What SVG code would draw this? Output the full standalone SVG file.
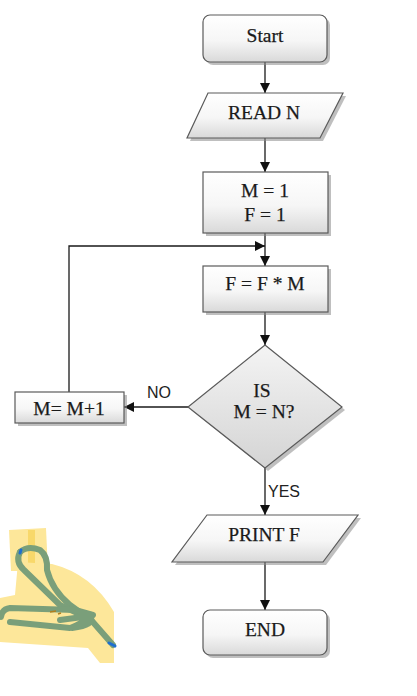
<svg xmlns="http://www.w3.org/2000/svg" width="417" height="696" viewBox="0 0 417 696">
<defs>
<linearGradient id="g" x1="0" y1="0" x2="0" y2="1">
<stop offset="0" stop-color="#ffffff"/>
<stop offset="0.55" stop-color="#f6f6f6"/>
<stop offset="1" stop-color="#d9d9d9"/>
</linearGradient>
<linearGradient id="gd" x1="0" y1="0" x2="0" y2="1">
<stop offset="0" stop-color="#f4f4f4"/>
<stop offset="1" stop-color="#d4d4d4"/>
</linearGradient>
<marker id="ah" viewBox="0 0 10 10" refX="10" refY="5" markerWidth="10" markerHeight="10" markerUnits="userSpaceOnUse" orient="auto">
<path d="M0,0 L10,5 L0,10 Z" fill="#111"/>
</marker>
</defs>
<style>
.box{fill:url(#g);stroke:#5a5a5a;stroke-width:1.2}
.dia{fill:url(#gd);stroke:#5a5a5a;stroke-width:1.2}
.sh{fill:#8a8a8a;opacity:0.55}
.t{font-family:"Liberation Serif","Times New Roman",serif;font-size:19.5px;fill:#1a1a1a;stroke:#1a1a1a;stroke-width:0.25;text-anchor:middle}
.lbl{font-family:"Liberation Sans",Arial,sans-serif;font-size:16px;fill:#222}
.c{fill:none;stroke:#1a1a1a;stroke-width:1.3}
</style>
<rect width="417" height="696" fill="#ffffff"/>

<g id="scribble">
<path d="M9,530 L46,528 L48,571 L11,571 Z" fill="#fde79a"/>
<path d="M28,530 L35,530 L35,566 L28,566 Z" fill="#f8d86a"/>
<path d="M0,598 L15,595 L18,562 L52,564 Q92,574 114,612 L114,663 L100,663 L88,648 L0,642 Z" fill="#fde79a"/>
<path d="M20,552 Q28,545 40,550 Q48,556 47,570 Q52,590 70,605 L92,621 L113,645" fill="none" stroke="#7a9f7a" stroke-width="6" stroke-linecap="round" stroke-linejoin="round"/>
<path d="M20,552 Q15,562 24,570 L60,605 L88,618" fill="none" stroke="#7a9f7a" stroke-width="6" stroke-linecap="round" stroke-linejoin="round"/>
<path d="M1,617 Q2,609 10,608 L75,610 L93,615 Q80,625 70,628 L10,622 M60,620 L90,616 Q96,625 72,628" fill="none" stroke="#7a9f7a" stroke-width="6" stroke-linecap="round" stroke-linejoin="round"/>
<path d="M20,553 L21,550" stroke="#1f6fd0" stroke-width="3" stroke-linecap="round"/>
<path d="M109,643 L115,646" stroke="#1f6fd0" stroke-width="3" stroke-linecap="round"/>
<path d="M50,612 L56,611 M58,614 L61,613" stroke="#b08020" stroke-width="1.5"/>
</g>

<g id="connectors">
<line class="c" x1="265" y1="62" x2="265" y2="93" marker-end="url(#ah)"/>
<line class="c" x1="265" y1="138" x2="265" y2="172" marker-end="url(#ah)"/>
<line class="c" x1="265" y1="233" x2="265" y2="266" marker-end="url(#ah)"/>
<polyline class="c" points="69,392 69,246 265,246" marker-end="url(#ah)"/>
<line class="c" x1="265" y1="312" x2="265" y2="345" marker-end="url(#ah)"/>
<line class="c" x1="188" y1="407" x2="124" y2="407" marker-end="url(#ah)"/>
<line class="c" x1="265" y1="468" x2="265" y2="515" marker-end="url(#ah)"/>
<line class="c" x1="265" y1="562" x2="265" y2="610" marker-end="url(#ah)"/>
<text class="lbl" x="147" y="398">NO</text>
<text class="lbl" x="268" y="497">YES</text>
</g>

<g id="start">
<rect class="sh" x="206" y="18" width="124" height="47" rx="7"/>
<rect class="box" x="203" y="15" width="124" height="47" rx="7"/>
<text class="t" x="265" y="42">Start</text>
</g>

<g id="read">
<polygon class="sh" points="211,96 346,96 323,141 190,141"/>
<polygon class="box" points="208,93 343,93 320,138 187,138"/>
<text class="t" x="264" y="119">READ N</text>
</g>

<g id="init">
<rect class="sh" x="206" y="175" width="125" height="61"/>
<rect class="box" x="203" y="172" width="125" height="61"/>
<text class="t" x="265" y="197">M = 1</text>
<text class="t" x="265" y="221">F = 1</text>
</g>

<g id="mult">
<rect class="sh" x="206" y="269" width="125" height="46"/>
<rect class="box" x="203" y="266" width="125" height="46"/>
<text class="t" x="265" y="290">F = F * M</text>
</g>

<g id="decision">
<polygon class="sh" points="268,348 345,410 268,471 191,410"/>
<polygon class="dia" points="265,345 342,407 265,468 188,407"/>
<text class="t" x="262" y="397">IS</text>
<text class="t" x="264" y="418">M = N?</text>
</g>

<g id="incr">
<rect class="sh" x="18" y="395" width="109" height="31"/>
<rect class="box" x="15" y="392" width="109" height="31"/>
<text class="t" x="69" y="415">M= M+1</text>
</g>

<g id="print">
<polygon class="sh" points="210,518 361,518 326,565 175,565"/>
<polygon class="box" points="207,515 358,515 323,562 172,562"/>
<text class="t" x="264" y="541">PRINT F</text>
</g>

<g id="end">
<rect class="sh" x="206" y="613" width="124" height="45" rx="7"/>
<rect class="box" x="203" y="610" width="124" height="45" rx="7"/>
<text class="t" x="265" y="636">END</text>
</g>
</svg>
